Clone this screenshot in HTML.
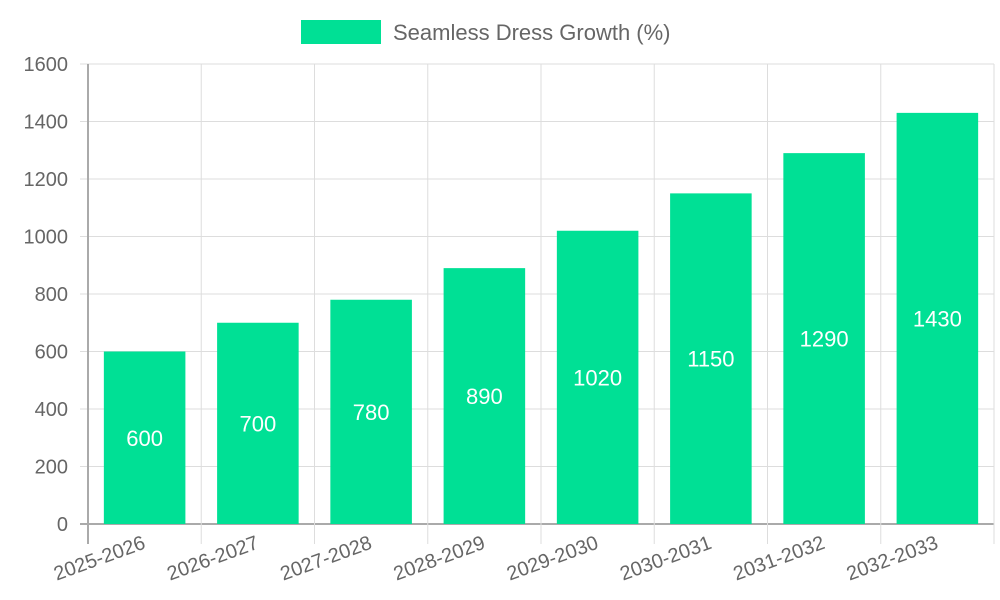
<!DOCTYPE html>
<html><head><meta charset="utf-8"><style>
body{margin:0;background:#fff;}
svg{display:block;font-family:"Liberation Sans",sans-serif;}
</style></head><body>
<svg id="chart" width="1000" height="600">
<g>
<rect x="301" y="20" width="80" height="24" fill="#00e095"/>
<text x="393" y="40" font-size="22" fill="#666">Seamless Dress Growth (%)</text>
</g>
<g id="grid"></g><g id="bars"></g><g id="labels"></g>
</svg>
<script>
const categories=["2025-2026","2026-2027","2027-2028","2028-2029","2029-2030","2030-2031","2031-2032","2032-2033"];
const values=[600,700,780,890,1020,1150,1290,1430];
const yTicks=[0,200,400,600,800,1000,1200,1400,1600];
const NS="http://www.w3.org/2000/svg";
const X0=88,X1=994,Y0=524,Y1=64,YMAX=1600;
const bw=(X1-X0)/categories.length;
const y=v=>Y0-(v/YMAX)*(Y0-Y1);
const xc=i=>X0+bw*(i+0.5);
function mk(t,a,p){const e=document.createElementNS(NS,t);for(const k in a)e.setAttribute(k,a[k]);p.appendChild(e);return e;}
const grid=document.getElementById('grid'),bars=document.getElementById('bars'),labels=document.getElementById('labels');
yTicks.forEach(v=>{
 const l=mk('line',{x1:X0-8,x2:X1,y1:y(v),y2:y(v),stroke:v===0?'#aaa':'#ddd','stroke-width':v===0?2:1},grid);
 
 
 const t=mk('text',{x:X0-20,y:y(v)+7,'text-anchor':'end','font-size':20,fill:'#666'},grid);
 t.textContent=v;
 
 
});
for(let i=0;i<=categories.length;i++){
 const x=X0+bw*i;
 const l=mk('line',{x1:x,x2:x,y1:Y1,y2:Y0+20,stroke:i===0?'#aaa':'#ddd','stroke-width':i===0?2:1},grid);
 
 
}
categories.forEach((c,i)=>{
 const w=bw*0.72;
 const r=mk('rect',{x:xc(i)-w/2,y:y(values[i]),width:w,height:Y0-y(values[i]),fill:'#00e095'},bars);
 
 
 const vt=mk('text',{x:xc(i),y:(y(values[i])+Y0)/2+8,'text-anchor':'middle','font-size':22,fill:'#fff'},labels);
 vt.textContent=values[i];
 
 
 const t=mk('text',{x:xc(i)+2,y:548,'text-anchor':'end','font-size':20,fill:'#666',transform:`rotate(-20 ${xc(i)+2} 548)`},labels);
 t.textContent=c;
 
 
});
</script>
</body></html>
